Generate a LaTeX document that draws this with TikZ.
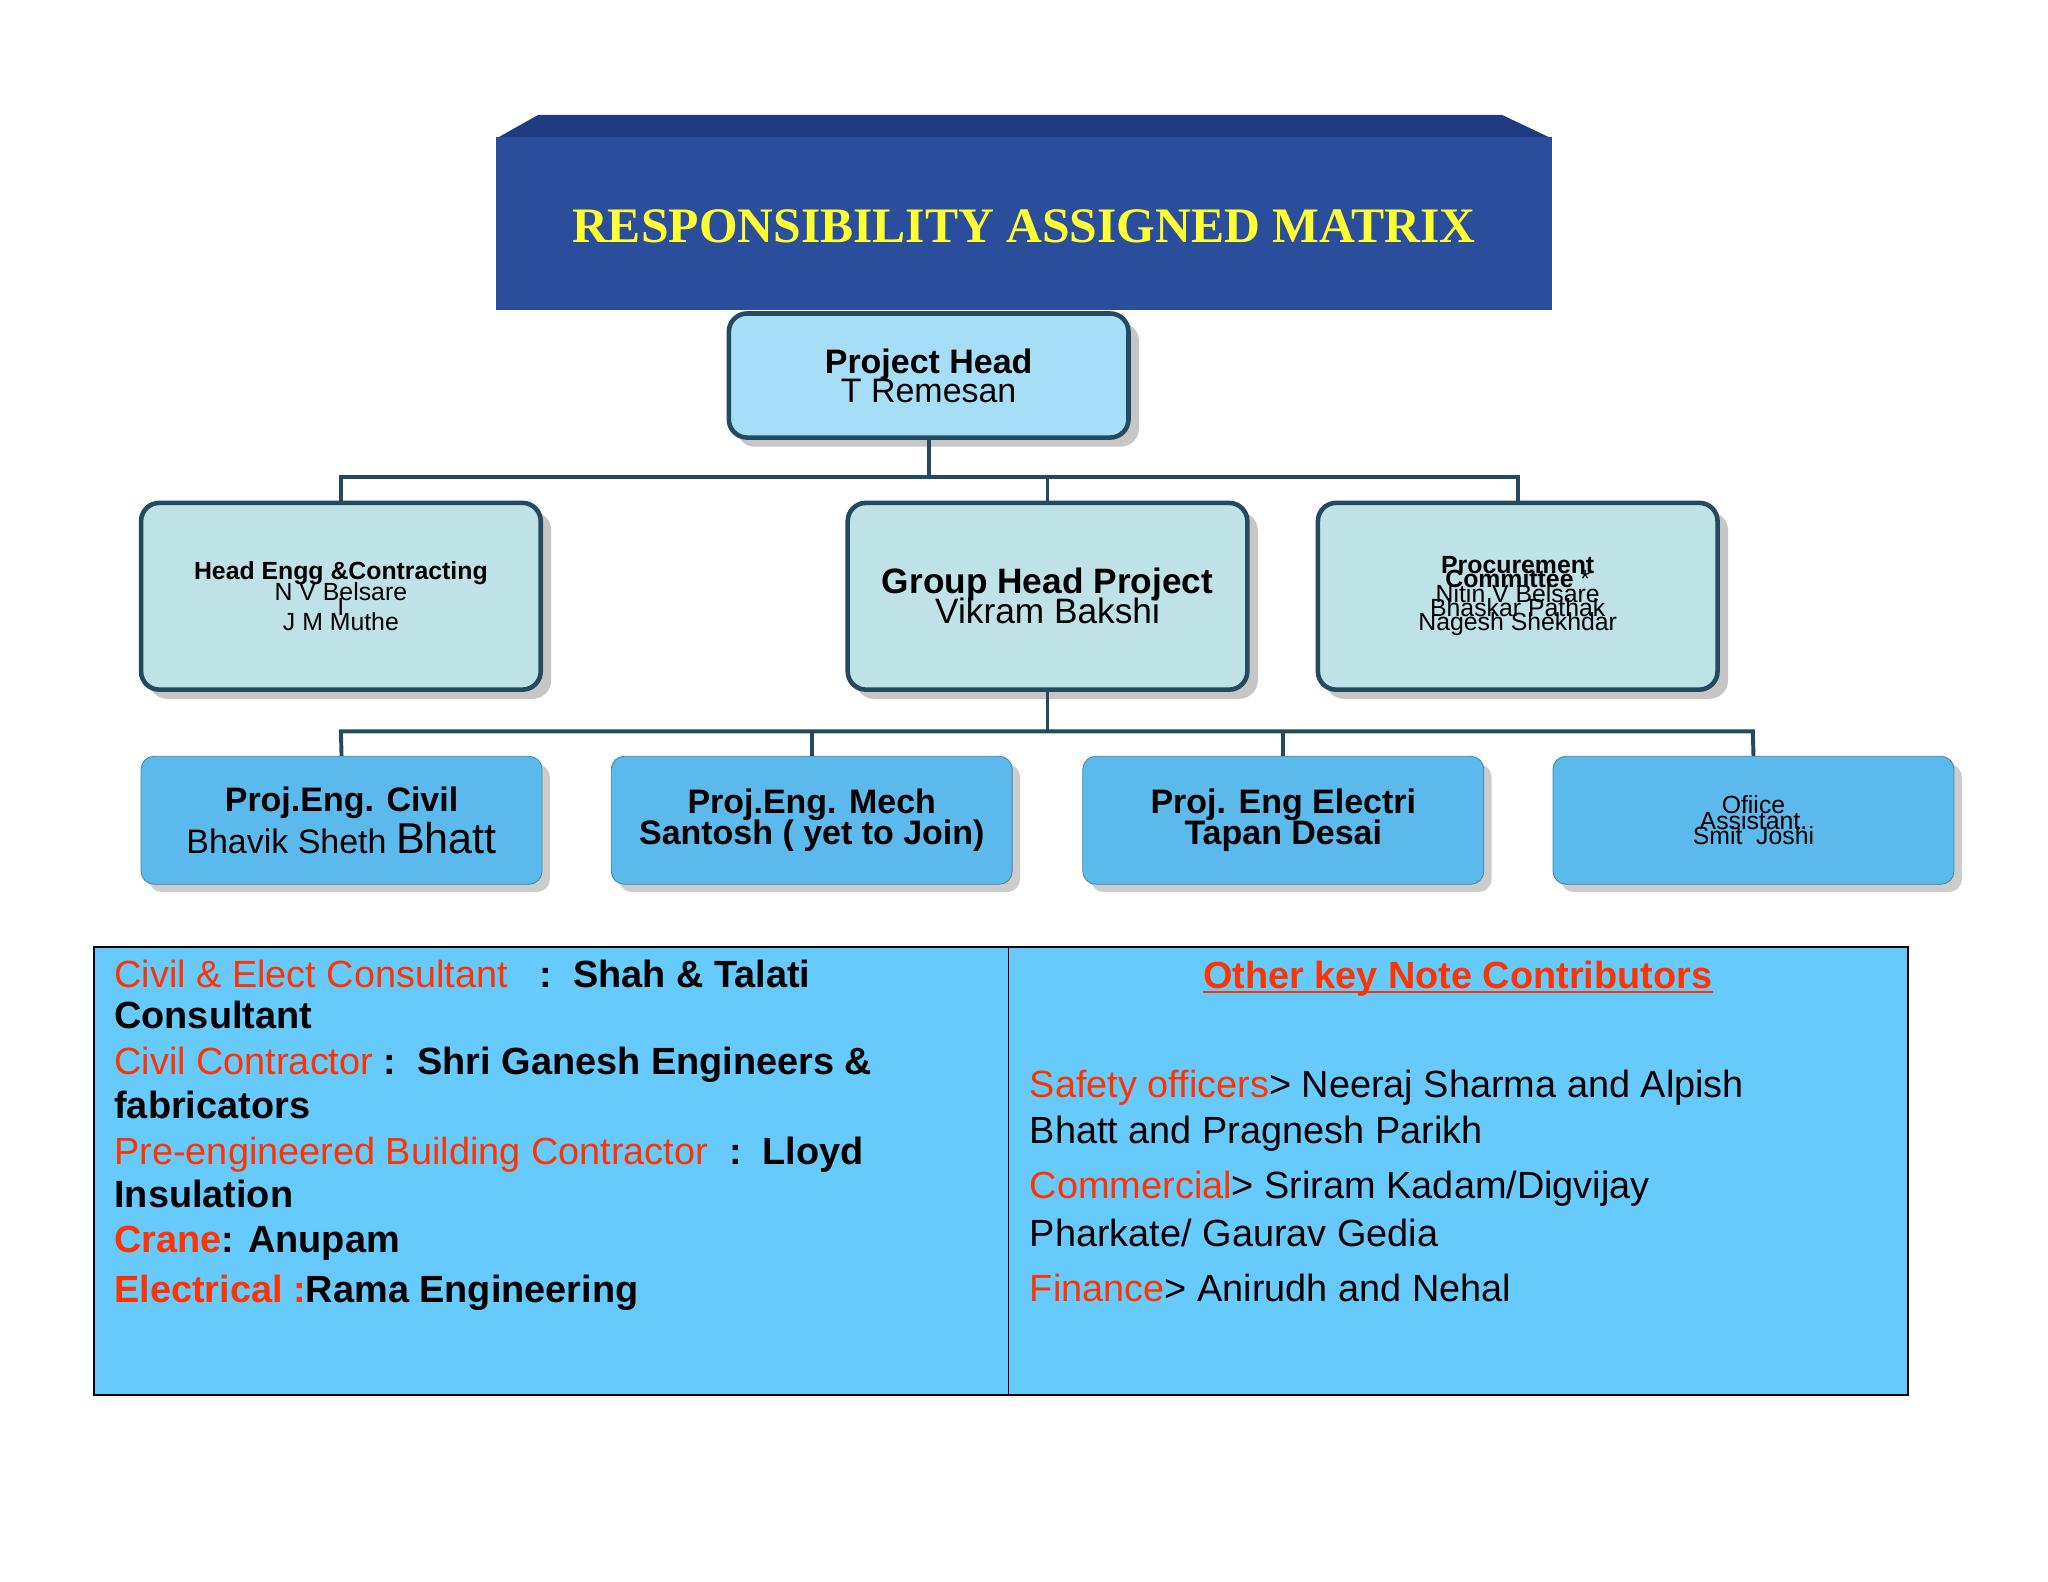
\documentclass[tikz,border=0pt]{standalone}
\usepackage{fontspec}
\setmainfont{Liberation Sans}
\newfontfamily\titlefont{Liberation Serif}
\definecolor{banner}{HTML}{2A4E9B}
\definecolor{bannertop}{HTML}{1E3A80}
\definecolor{phfill}{HTML}{A6DEF7}
\definecolor{l2fill}{HTML}{BEE2E6}
\definecolor{l3fill}{HTML}{5CB9EC}
\definecolor{tabfill}{HTML}{66CAFC}
\definecolor{edge}{HTML}{234A5E}
\definecolor{rd}{HTML}{FF3300}
\definecolor{ttl}{HTML}{FFFF33}
\newcommand{\fs}[1]{\fontsize{#1}{1.2\dimexpr #1pt\relax}\selectfont}
\begin{document}
\begin{tikzpicture}[x=1pt,y=-1pt,
  box/.style={draw=edge,line width=3.5pt,rounded corners=14pt,minimum width=306pt,align=center},
  sbox/.style={draw=l3fill!70!black,line width=0.6pt,rounded corners=10pt,fill=l3fill,minimum width=307pt,minimum height=98pt,align=center},
  shadow/.style={fill=gray!45,rounded corners=14pt},
  conn/.style={draw=edge,line width=3pt},
  lt/.style={anchor=west,font=\fs{29}},
]
\useasboundingbox (0,0) rectangle (1568,1211);
\fill[white] (0,0) rectangle (1568,1211);
% banner
\fill[bannertop] (380,106) -- (412,88) -- (1150,88) -- (1188,106) -- cycle;
\fill[banner] (380,105) rectangle (1188,237);
\node (title) at (784,173) {\titlefont\bfseries\fs{38}\color{ttl}RESPONSIBILITY ASSIGNED MATRIX};
% shadows
\foreach \a/\b/\c/\d in {557/240/865/335, 107/385/415/528, 648/385/956/528, 1008/385/1316/528}
  \fill[shadow] (\a+7,\b+7) rectangle (\c+7,\d+7);
\foreach \a in {108,468,829,1189}
  \fill[fill=gray!40,rounded corners=10pt] (\a+6,585) rectangle (\a+313,683);
% level 1
\node[box,fill=phfill,minimum height=95pt] (ph) at (711,287.5) {\fs{26}\textbf{Project Head}\\[-2pt]\fs{26}T Remesan};
% level 2
\node[box,fill=l2fill,minimum height=143pt] (he) at (261,456.5) {\fs{19}\textbf{Head Engg \&Contracting}\\[-3pt]\fs{19}N V Belsare\\[-3pt]\fs{19}I\\[-3pt]\fs{19}J M Muthe};
\node[box,fill=l2fill,minimum height=143pt] (gh) at (802,456.5) {\fs{27}\textbf{Group Head Project}\\[-3pt]\fs{27}Vikram Bakshi};
\node[box,fill=l2fill,minimum height=143pt] (pc) at (1162,456.5) {\fs{19}\textbf{Procurement}\\[-4pt]\fs{19}\textbf{Committee} *\\[-4pt]\fs{19}Nitin V Belsare\\[-4pt]\fs{19}Bhaskar Pathak\\[-4pt]\fs{19}Nagesh Shekhdar};
% connectors level1-2
\coordinate (j1) at (711,365);
\draw[conn] (ph.south) -- (j1);
\draw[conn] (he.north) -- (261,365) -- (1162,365) -- (pc.north);
\draw[conn] (802,365) -- (gh.north);
% level 3
\node[sbox] (c1) at (261.5,628) {\fs{26}\textbf{Proj.Eng. Civil}\\[2pt]\fs{26}Bhavik Sheth {\fs{33}Bhatt}};
\node[sbox] (c2) at (621.5,628) {\fs{26}\textbf{Proj.Eng. Mech}\\[-2pt]\fs{26}\textbf{Santosh ( yet to Join)}};
\node[sbox] (c3) at (982.5,628) {\fs{26}\textbf{Proj. Eng Electri}\\[-2pt]\fs{26}\textbf{Tapan Desai}};
\node[sbox] (c4) at (1342.5,628) {\fs{19}Ofiice\\[-3pt]\fs{19}Assistant.\\[-3pt]\fs{19}Smit\ \ Joshi};
\draw[conn] (gh.south) -- (802,560);
\draw[conn] (c1.north) -- (261,560) -- (1342,560) -- (c4.north);
\draw[conn] (621.5,560) -- (c2.north);
\draw[conn] (982.5,560) -- (c3.north);
% table
\draw[fill=tabfill,line width=1.2pt] (72,725) rectangle (1461,1068);
\draw[line width=1.2pt] (772,725) -- (772,1068);
\node[lt] (t1) at (84,746) {\color{rd}Civil \& Elect Consultant\ \ \ \color{black}\textbf{:\ \ Shah \& Talati}};
\node[lt] (t2) at (84,777) {\textbf{Consultant}};
\node[lt] (t3) at (84,815) {\color{rd}Civil Contractor\color{black}\textbf{ :\ \ Shri Ganesh Engineers \&}};
\node[lt] (t4) at (84,846) {\textbf{fabricators}};
\node[lt] (t5) at (84,884) {\color{rd}Pre-engineered Building Contractor\ \ \color{black}\textbf{:\ \ Lloyd}};
\node[lt] (t6) at (84,914) {\textbf{Insulation}};
\node[lt] (t7) at (84,952) {\textbf{\color{rd}Crane\color{black}: Anupam}};
\node[lt] (t8) at (84,990) {\textbf{\color{rd}Electrical :\color{black} Rama Engineering}};
\node[inner sep=0pt] (r0) at (1116,749) {\fs{29}\color{rd}\textbf{Other key Note Contributors}};
\draw[rd,line width=2pt] ([yshift=-3pt]r0.base west) -- ([yshift=-3pt]r0.base east);
\node[lt] (r1) at (785,833) {\color{rd}Safety officers\color{black} > Neeraj Sharma and Alpish};
\node[lt] (r2) at (785,868) {Bhatt and Pragnesh Parikh};
\node[lt] (r3) at (785,910) {\color{rd}Commercial\color{black} > Sriram Kadam/Digvijay};
\node[lt] (r4) at (785,944) {Pharkate/ Gaurav Gedia};
\node[lt] (r5) at (785,986) {\color{rd}Finance\color{black}> Anirudh and Nehal};
\end{tikzpicture}
\end{document}
